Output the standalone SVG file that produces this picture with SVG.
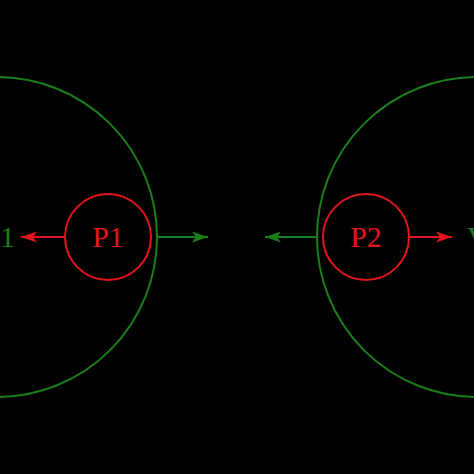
<svg xmlns="http://www.w3.org/2000/svg" width="474" height="474" viewBox="0 0 474 474">
<style>
.g{fill:none;stroke:#1a7f1a;stroke-width:2}
.r{fill:none;stroke:#e0161c;stroke-width:2}
.tg{fill:#1a7f1a;font-family:"Liberation Serif",serif;font-size:30px}
.tr{fill:#e0161c;font-family:"Liberation Serif",serif;font-size:30px}
</style>
<defs>
<marker id="ag" viewBox="0 0 17 12" refX="16" refY="6" markerWidth="17" markerHeight="12" markerUnits="userSpaceOnUse" orient="auto">
<path d="M16,6 L0,0.5 L4,6 L0,11.5 Z" fill="#1a7f1a"/>
</marker>
<marker id="ar" viewBox="0 0 17 12" refX="16" refY="6" markerWidth="17" markerHeight="12" markerUnits="userSpaceOnUse" orient="auto">
<path d="M16,6 L0,0.5 L4,6 L0,11.5 Z" fill="#e0161c"/>
</marker>
</defs>
<rect width="474" height="474" fill="#000"/>
<g id="V1">
<circle class="g" cx="-3" cy="237" r="160"/>
<text class="tg" x="15" y="247" text-anchor="end">V1</text>
</g>
<g id="V2">
<circle class="g" cx="477" cy="237" r="160"/>
<text class="tg" x="467" y="247">V2</text>
</g>
<g id="P1">
<circle class="r" cx="108" cy="237" r="43"/>
<text class="tr" x="108" y="247" text-anchor="middle">P1</text>
</g>
<g id="P2">
<circle class="r" cx="366" cy="237" r="43"/>
<text class="tr" x="366" y="247" text-anchor="middle">P2</text>
</g>
<g id="connectors">
<line class="r" x1="65" y1="237" x2="21" y2="237" marker-end="url(#ar)"/>
<line class="g" x1="157" y1="237" x2="208" y2="237" marker-end="url(#ag)"/>
<line class="g" x1="317" y1="237" x2="265" y2="237" marker-end="url(#ag)"/>
<line class="r" x1="409" y1="237" x2="452" y2="237" marker-end="url(#ar)"/>
</g>
</svg>
